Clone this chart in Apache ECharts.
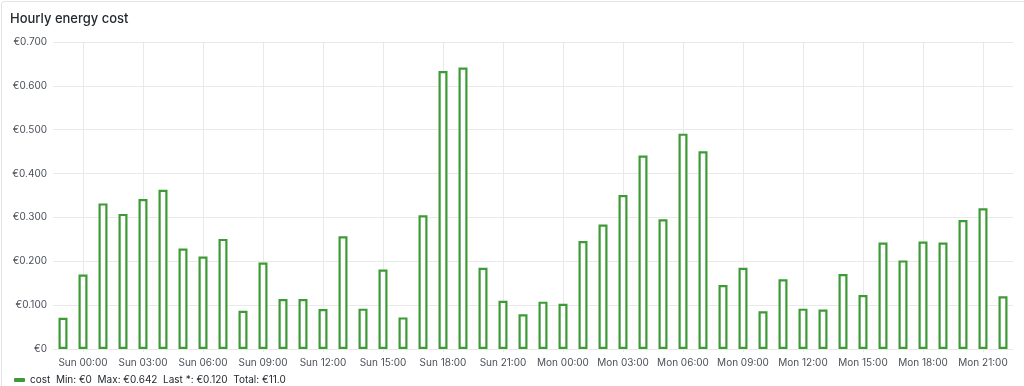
<!DOCTYPE html>
<html>
<head>
<meta charset="utf-8">
<script src="https://cdn.jsdelivr.net/npm/echarts@6/dist/echarts.min.js"></script>
<style>
  html, body { margin: 0; padding: 0; background: #ffffff; overflow: hidden; }
  #frame { position: absolute; left: 1px; top: 1px; width: 1030px; height: 400px; border: 1px solid #e3e4e6; border-radius: 3px; box-sizing: border-box; }
  #chart { position: absolute; left: 0; top: 0; width: 1024px; height: 386px; }
</style>
</head>
<body>
<div id="frame"></div>
<div id="chart"></div>
<script>
// ---- data ----
const seriesName = 'cost';
// hourly cost values, first bar = Sat 23:00, last = Mon 22:00
const costs = [
  0.071, 0.170, 0.332, 0.308, 0.342, 0.363, 0.229, 0.211, 0.251, 0.087,
  0.197, 0.114, 0.114, 0.091, 0.257, 0.092, 0.181, 0.072, 0.305, 0.634,
  0.642, 0.185, 0.110, 0.079, 0.108, 0.103, 0.246, 0.284, 0.351, 0.441,
  0.296, 0.491, 0.451, 0.146, 0.185, 0.086, 0.159, 0.092, 0.090, 0.171,
  0.123, 0.243, 0.202, 0.245, 0.243, 0.294, 0.321, 0.120
];
const tickLabels = [
  'Sun 00:00', 'Sun 03:00', 'Sun 06:00', 'Sun 09:00', 'Sun 12:00', 'Sun 15:00',
  'Sun 18:00', 'Sun 21:00', 'Mon 00:00', 'Mon 03:00', 'Mon 06:00', 'Mon 09:00',
  'Mon 12:00', 'Mon 15:00', 'Mon 18:00', 'Mon 21:00'
];
const legendStats = [
  ['Min', '€0'], ['Max', '€0.642'], ['Last *', '€0.120'], ['Total', '€11.0']
];

// ---- hour offsets relative to Sun 00:00 ----
const firstBarHour = -1; // Saturday 23:00
const barHours = costs.map((_, i) => firstBarHour + i);
const dayOffset = { Sun: 0, Mon: 24 };
const tickHours = tickLabels.map(l => {
  const [d, t] = l.split(' ');
  return dayOffset[d] + parseInt(t.split(':')[0], 10);
});
const seriesData = barHours.map((h, i) => [h, costs[i]]);

const green = '#3d9b35';
const gridColor = '#e9e9ea';
const textColor = '#4b5058';
const font = 'Inter, "Noto Sans", sans-serif';

const chart = echarts.init(document.getElementById('chart'), null, { renderer: 'canvas' });
chart.setOption({
  animation: false,
  textStyle: { fontFamily: font },
  title: {
    text: 'Hourly energy cost',
    left: 5, top: 8,
    textStyle: { fontFamily: font, fontSize: 13, fontWeight: 500, color: '#24292e' }
  },
  grid: { left: 53, right: 11, top: 42, bottom: 37, containLabel: false },
  legend: {
    left: 9, bottom: -4,
    itemWidth: 11, itemHeight: 4, itemGap: 6,
    icon: 'roundRect',
    textStyle: { fontFamily: font, fontSize: 10, color: '#24292e' },
    formatter: name => name + '  ' + legendStats.map(s => s[0] + ': ' + s[1]).join('  '),
    data: [{ name: seriesName, itemStyle: { color: green, borderWidth: 0 } }]
  },
  xAxis: {
    type: 'value',
    min: barHours[0] - 0.5,
    max: barHours[barHours.length - 1] + 0.5,
    axisLine: { show: false },
    axisTick: { show: true, length: 3, lineStyle: { color: gridColor }, customValues: tickHours },
    splitLine: { show: true, lineStyle: { color: gridColor, width: 1 } },
    axisLabel: {
      customValues: tickHours,
      color: textColor, fontSize: 10, fontFamily: font, margin: 9,
      formatter: v => { const i = tickHours.indexOf(v); return i >= 0 ? tickLabels[i] : ''; }
    }
  },
  yAxis: {
    type: 'value',
    min: 0, max: 0.7, interval: 0.1,
    axisLine: { show: false },
    axisTick: { show: false },
    splitLine: { lineStyle: { color: gridColor, width: 1 } },
    axisLabel: {
      color: textColor, fontSize: 10, fontFamily: font, margin: 6,
      formatter: v => v === 0 ? '€0' : '€' + v.toFixed(3)
    }
  },
  series: [{
    name: seriesName,
    type: 'bar',
    barWidth: 9,
    data: seriesData,
    itemStyle: { color: '#ffffff', borderColor: green, borderWidth: 2.2 }
  }]
});
</script>
</body>
</html>
